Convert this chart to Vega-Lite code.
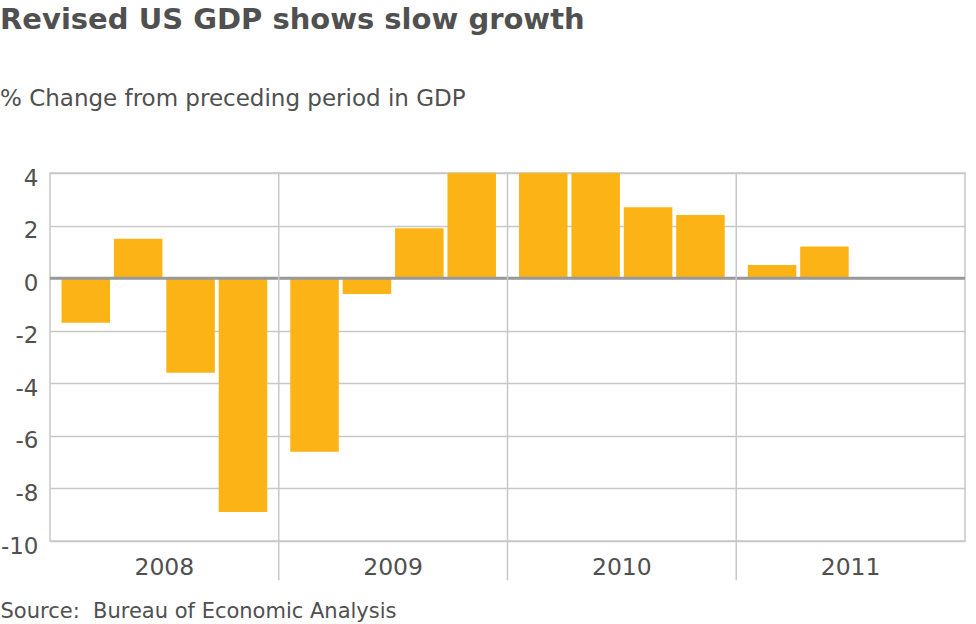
{
  "$schema": "https://vega.github.io/schema/vega-lite/v6.json",
  "autosize": {"type": "none"},
  "width": 915,
  "height": 368,
  "padding": {"left": 50, "top": 173, "right": 11, "bottom": 83},
  "background": "white",
  "title": {
    "text": "Revised US GDP shows slow growth",
    "subtitle": "% Change from preceding period in GDP",
    "anchor": "start",
    "frame": "group",
    "dx": -50,
    "offset": 56,
    "font": "DejaVu Sans",
    "fontSize": 29,
    "fontWeight": "bold",
    "color": "#505050",
    "subtitleFont": "DejaVu Sans",
    "subtitleFontSize": 23,
    "subtitleColor": "#505050",
    "subtitlePadding": 53
  },
  "config": {
    "view": {"stroke": "#c8c8c8", "strokeWidth": 1.5},
    "font": "DejaVu Sans"
  },
  "datasets": {
    "gdp": [
      {"year": 2008, "quarter": "Q1", "change": -1.7},
      {"year": 2008, "quarter": "Q2", "change": 1.5},
      {"year": 2008, "quarter": "Q3", "change": -3.6},
      {"year": 2008, "quarter": "Q4", "change": -8.9},
      {"year": 2009, "quarter": "Q1", "change": -6.6},
      {"year": 2009, "quarter": "Q2", "change": -0.6},
      {"year": 2009, "quarter": "Q3", "change": 1.9},
      {"year": 2009, "quarter": "Q4", "change": 4.0},
      {"year": 2010, "quarter": "Q1", "change": 4.0},
      {"year": 2010, "quarter": "Q2", "change": 4.0},
      {"year": 2010, "quarter": "Q3", "change": 2.7},
      {"year": 2010, "quarter": "Q4", "change": 2.4},
      {"year": 2011, "quarter": "Q1", "change": 0.5},
      {"year": 2011, "quarter": "Q2", "change": 1.2}
    ],
    "years": [{"year": 2009}, {"year": 2010}, {"year": 2011}]
  },
  "layer": [
    {
      "data": {"name": "gdp"},
      "mark": {"type": "bar", "color": "#FCB316"},
      "encoding": {
        "x": {
          "field": "year",
          "type": "ordinal",
          "scale": {"paddingInner": 0, "paddingOuter": 0},
          "axis": {
            "title": "Source:\u00a0 Bureau of Economic Analysis",
            "titleX": -50,
            "titleY": 76,
            "titleAlign": "left",
            "titleAnchor": "start",
            "titleBaseline": "alphabetic",
            "titleFontSize": 21,
            "titleFontWeight": "normal",
            "titleColor": "#505050",
            "labelAngle": 0,
            "labelFontSize": 23.5,
            "labelColor": "#505050",
            "labelBaseline": "alphabetic",
            "labelPadding": 33,
            "domain": false,
            "ticks": false,
            "tickSize": 0,
            "grid": false
          }
        },
        "xOffset": {
          "field": "quarter",
          "type": "nominal",
          "scale": {"paddingInner": 0.074, "paddingOuter": 0.22}
        },
        "y": {
          "field": "change",
          "type": "quantitative",
          "scale": {"domain": [-10, 4], "nice": false},
          "axis": {
            "values": [-10, -8, -6, -4, -2, 0, 2, 4],
            "labelExpr": "datum.value + ''",
            "title": null,
            "domain": false,
            "ticks": false,
            "grid": true,
            "gridColor": "#c8c8c8",
            "gridWidth": 1.5,
            "labelFontSize": 23,
            "labelColor": "#505050",
            "labelPadding": 12,
            "labelOffset": 5
          }
        }
      }
    },
    {
      "data": {"values": [{}]},
      "mark": {"type": "rule", "color": "#999999", "strokeWidth": 3},
      "encoding": {"y": {"datum": 0}}
    },
    {
      "data": {"name": "years"},
      "mark": {"type": "rule", "color": "#c8c8c8", "strokeWidth": 1.5},
      "encoding": {
        "x": {"field": "year", "type": "ordinal", "bandPosition": 0},
        "y": {"datum": 4},
        "y2": {"datum": -11.49}
      }
    }
  ]
}
